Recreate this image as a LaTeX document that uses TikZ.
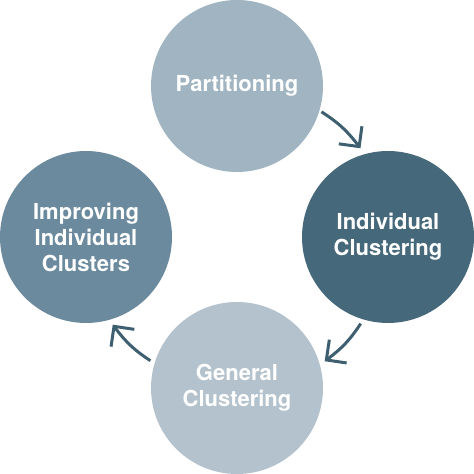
\documentclass[tikz,border=0pt]{standalone}
\usepackage{fontspec}
\setmainfont{TeX Gyre Heros}
\usetikzlibrary{calc,decorations.markings}
\definecolor{ctop}{HTML}{A0B4C1}
\definecolor{cright}{HTML}{46687B}
\definecolor{cleft}{HTML}{6B8A9E}
\definecolor{cbottom}{HTML}{B3C2CC}
\definecolor{carrow}{HTML}{3E5F6F}
\tikzset{
  stage/.style={circle, minimum size=172pt, inner sep=0pt, draw=none, text=white,
    align=center, font=\fontsize{22}{26}\selectfont\bfseries},
  cyclearrow/.style={line width=3pt, draw=carrow, line cap=butt,
    postaction={decorate, decoration={markings, mark=at position 1 with {
      \draw[line width=3pt, draw=carrow, line join=miter, line cap=butt]
        (-14.5,14.5) -- (0,0) -- (-14.5,-14.5);}}}}
}
\begin{document}
\begin{tikzpicture}[x=1pt,y=1pt]
\useasboundingbox (0,0) rectangle (474,474);
\coordinate (c) at (237,237);
\node[stage, fill=ctop] (top) at (237,388) {Partitioning};
\node[stage, fill=cright] (right) at (388,237) {Individual\\Clustering};
\node[stage, fill=cbottom] (bottom) at (237,86) {General\\Clustering};
\node[stage, fill=cleft] (left) at (86,237) {Improving\\Individual\\Clusters};
\coordinate (a1s) at ($(c)+(56:151)$);
\coordinate (a1e) at ($(c)+(36.5:152)$);
\coordinate (a2s) at ($(c)+(-35:151)$);
\coordinate (a2e) at ($(c)+(-54:152)$);
\coordinate (a3s) at ($(c)+(-125:151)$);
\coordinate (a3e) at ($(c)+(-144:152)$);
\draw[cyclearrow] (a1s) to[bend left=10] (a1e);
\draw[cyclearrow] (a2s) to[bend left=10] (a2e);
\draw[cyclearrow] (a3s) to[bend left=10] (a3e);
\end{tikzpicture}
\end{document}
